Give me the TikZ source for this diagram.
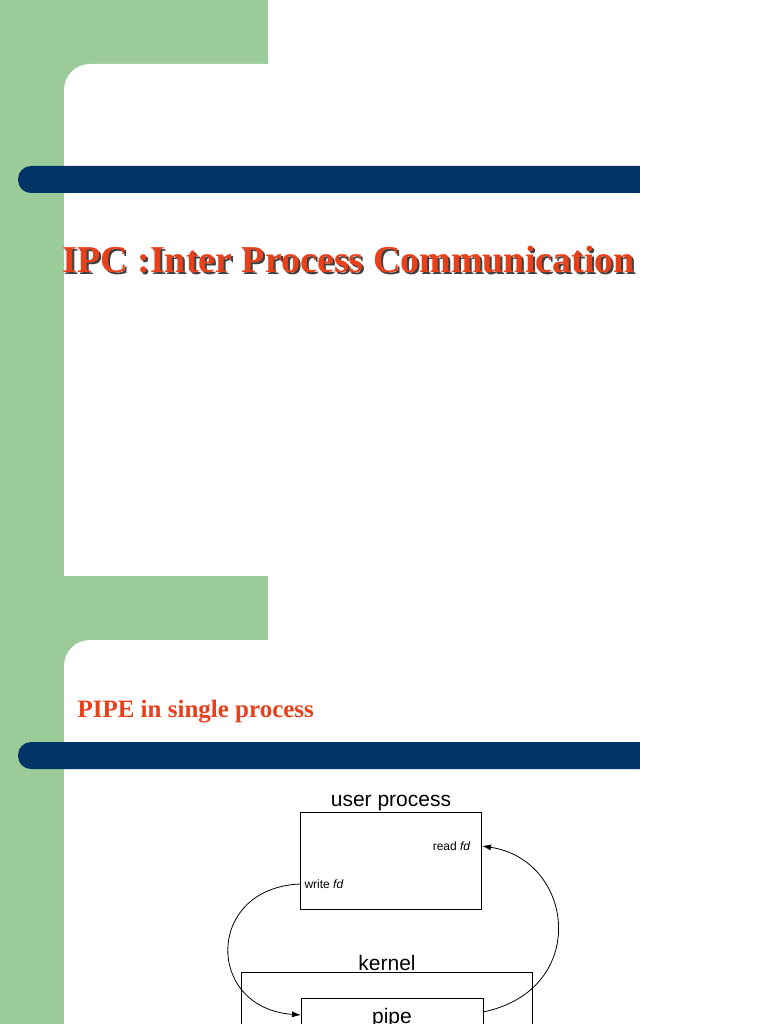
\documentclass[tikz,border=0pt]{standalone}
\usepackage{fontspec}
\setmainfont{Liberation Serif}
\newfontfamily\arialf{Liberation Sans}
\usetikzlibrary{arrows.meta}
\definecolor{sgreen}{HTML}{9BCB98}
\definecolor{sblue}{HTML}{003366}
\definecolor{sred}{HTML}{E8401A}
\begin{document}
\begin{tikzpicture}[x=1pt,y=-1pt,
  bar/.style={fill=sblue,rounded corners=13pt},
  boxs/.style={draw=black,line width=1pt},
  arr/.style={-{Latex[length=9pt,width=6pt]},line width=0.8pt}]
\useasboundingbox (0,0) rectangle (768,1024);
\begin{scope}
\clip (0,0) rectangle (768,1024);
% slide 1
\fill[sgreen] (0,0) rectangle (268,64);
\fill[sgreen] (0,0) rectangle (64,576);
\fill[sgreen] (64,64) rectangle (120,120);
\fill[white,rounded corners=26pt] (64,64) rectangle (700,600);
\fill[white] (64,300) rectangle (700,576);
\fill[white] (300,64) rectangle (700,576);
\fill[bar] (18,166) rectangle (660,193);
\fill[white] (640,160) rectangle (768,200);
\node[anchor=west,font=\bfseries\fontsize{38}{42}\selectfont,text=black!75] at (61,262) {IPC :Inter Process Communication};
\node (title) [anchor=west,font=\bfseries\fontsize{38}{42}\selectfont,text=sred] at (59,260) {IPC :Inter Process Communication};
% slide 2
\fill[sgreen] (0,576) rectangle (268,640);
\fill[sgreen] (0,576) rectangle (64,1024);
\fill[sgreen] (64,640) rectangle (120,700);
\fill[white,rounded corners=26pt] (64,640) rectangle (700,1100);
\fill[white] (300,640) rectangle (700,1024);
\fill[bar] (18,742) rectangle (660,769);
\fill[white] (640,736) rectangle (768,775);
\node (sub) [anchor=west,font=\bfseries\fontsize{25}{28}\selectfont,text=sred] at (74,712) {PIPE in single process};
% diagram
\node (up) [boxs,minimum width=181pt,minimum height=97pt,anchor=north west] at (300,812) {};
\node (uplab) [font=\arialf\fontsize{21}{24}\selectfont,anchor=south] at (up.north) [yshift=-2pt] {user process};
\node (rd) [font=\arialf\fontsize{12}{14}\selectfont,anchor=east] at (474,846) {read \textit{fd}};
\node (wr) [font=\arialf\fontsize{12}{14}\selectfont,anchor=west] at (301,884) {write \textit{fd}};
\node (kern) [boxs,minimum width=291pt,minimum height=100pt,anchor=north west] at (241,972) {};
\node (kernlab) [font=\arialf\fontsize{21}{24}\selectfont,anchor=south] at (kern.north) [yshift=-2pt] {kernel};
\node (pipe) [boxs,minimum width=182pt,minimum height=60pt,anchor=north west] at (301,998) {};
\node (pipelab) [font=\arialf\fontsize{21}{24}\selectfont] at (392,1018) {pipe};
\coordinate (wstart) at (300,884);
\coordinate (pin) at (301,1015);
\coordinate (pout) at (483,1012);
\coordinate (rend) at (482,846);
\draw[arr] (wstart) .. controls (205,888) and (205,1008) .. (pin);
\draw[arr] (pout) .. controls (590,990) and (575,860) .. (rend);
\end{scope}
\end{tikzpicture}
\end{document}
